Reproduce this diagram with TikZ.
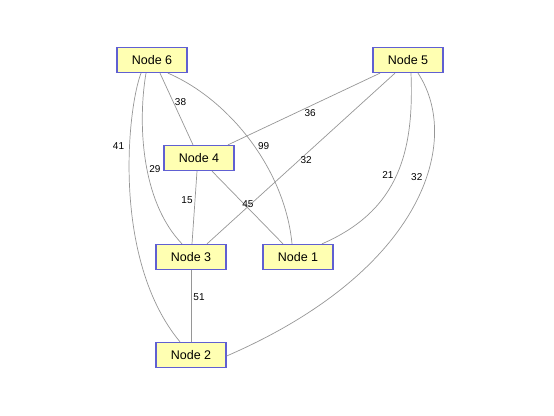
\documentclass[tikz,border=0pt]{standalone}
\usepackage{fontspec}
\setmainfont{Liberation Sans}
\definecolor{nodeborder}{RGB}{96,96,210}
\definecolor{nodefill}{RGB}{255,255,178}
\definecolor{edgegray}{RGB}{150,150,150}
\begin{document}
\begin{tikzpicture}[x=1pt,y=-1pt,
  nodebox/.style={draw=nodeborder, fill=nodefill, line width=1.3pt, minimum width=70pt, minimum height=25pt, inner sep=0pt, font=\fontsize{12.5}{14}\selectfont},
  edge/.style={draw=edgegray, line width=0.7pt},
  lab/.style={font=\fontsize{10}{12}\selectfont, inner sep=1pt, text=black}]
\useasboundingbox (0,0) rectangle (554,415);
\node[nodebox] (n6) at (152,60) {Node 6};
\node[nodebox] (n5) at (408,60) {Node 5};
\node[nodebox] (n4) at (199,158) {Node 4};
\node[nodebox] (n3) at (191,257) {Node 3};
\node[nodebox] (n1) at (298,257) {Node 1};
\node[nodebox] (n2) at (191,355) {Node 2};
% Node 6 edges
\draw[edge] ([xshift=-11pt]n6.south) .. controls (127,110) and (112,260) .. node[lab, pos=.35, xshift=-11pt] {41} ([xshift=-11pt]n2.north);
\draw[edge] ([xshift=-6pt]n6.south) .. controls (138,120) and (140,200) .. node[lab, pos=.55, xshift=8pt] {29} ([xshift=-9pt]n3.north);
\draw[edge] ([xshift=8pt]n6.south) -- node[lab, pos=.41, xshift=7pt] {38} ([xshift=-6pt]n4.north);
\draw[edge] ([xshift=16pt]n6.south) .. controls (230,100) and (285,170) .. node[lab, pos=.53, xshift=9pt] {99} ([xshift=-6pt]n1.north);
% Node 5 edges
\draw[edge] ([xshift=-28pt]n5.south) -- node[lab, pos=.46, yshift=-7pt] {36} ([xshift=29pt]n4.north);
\draw[edge] ([xshift=-13pt]n5.south) -- node[lab, pos=.51, xshift=7pt] {32} ([xshift=16pt]n3.north);
\draw[edge] ([xshift=3pt]n5.south) .. controls (414,150) and (400,210) .. node[lab, pos=.5, xshift=-9pt] {21} ([xshift=24pt]n1.north);
\draw[edge] ([xshift=10pt]n5.south) .. controls (462,140) and (425,270) .. node[lab, pos=.4, xshift=-10pt] {32} ([yshift=-1pt]n2.east);
% Node 4 edges
\draw[edge] ([xshift=-2pt]n4.south) -- node[lab, pos=.4, xshift=-8pt] {15} ([xshift=1pt]n3.north);
\draw[edge] ([xshift=13pt]n4.south) -- node[lab, pos=.45, xshift=4pt] {45} ([xshift=-15pt]n1.north);
% Node 3 edge
\draw[edge] (n3.south) -- node[lab, pos=.38, xshift=8pt] {51} (n2.north);
\end{tikzpicture}
\end{document}
